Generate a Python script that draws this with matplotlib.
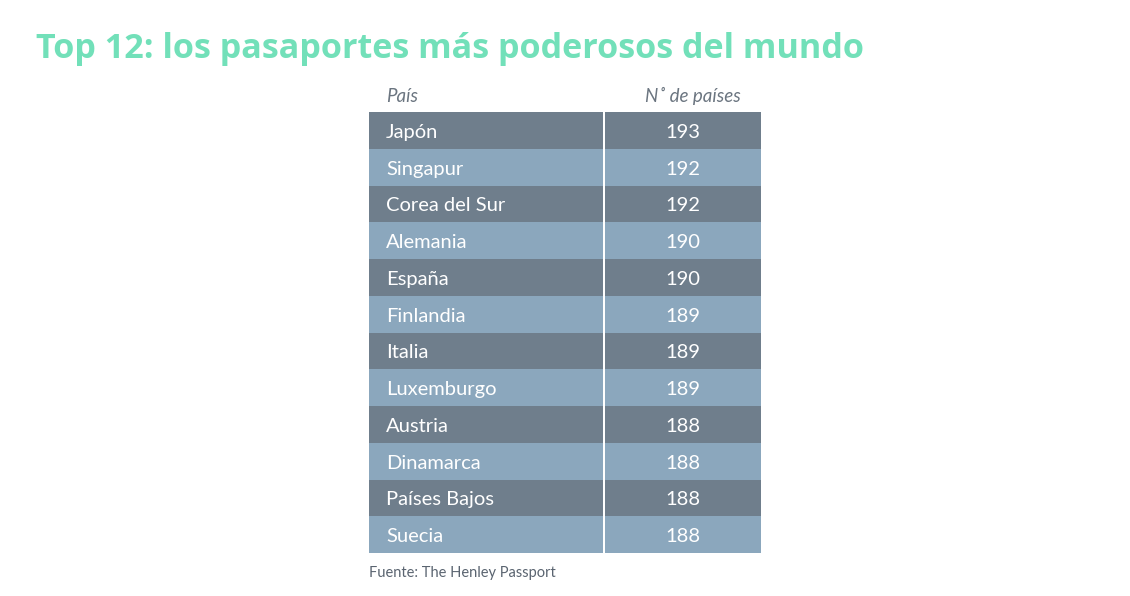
import matplotlib
matplotlib.use("Agg")
import matplotlib.pyplot as plt
from matplotlib.patches import Rectangle

paises = ["Japón", "Singapur", "Corea del Sur", "Alemania", "España", "Finlandia",
          "Italia", "Luxemburgo", "Austria", "Dinamarca", "Países Bajos", "Suecia"]
destinos = [193, 192, 192, 190, 190, 189, 189, 189, 188, 188, 188, 188]

dark = "#6f7e8c"
light = "#8ba7bd"
font = "Lato"

fig = plt.figure(figsize=(11.3, 5.96), dpi=100)
ax = fig.add_axes([0, 0, 1, 1])
ax.set_xlim(0, 1130)
ax.set_ylim(596, 0)
ax.axis("off")

# title
ax.text(36, 49, "Top 12: los pasaportes más poderosos del mundo", fontsize=24.6,
        fontweight="bold", color="#72e0b9", fontfamily="Open Sans", va="center")

# headers
ax.text(386, 96, "País", fontsize=13.5, style="italic", color="#6b7580",
        fontfamily=font, va="center")
ax.text(741, 96, "N˚ de países", fontsize=13.5, style="italic", color="#6b7580",
        fontfamily=font, va="center", ha="right")

top, h = 112, 441 / len(paises)
x0, xs, x1 = 369, 603, 761
for i, (p, v) in enumerate(zip(paises, destinos)):
    y = top + i * h
    c = dark if i % 2 == 0 else light
    ax.add_patch(Rectangle((x0, y), xs - x0, h, color=c, lw=0))
    ax.add_patch(Rectangle((xs + 2, y), x1 - xs - 2, h, color=c, lw=0))
    ax.text(386, y + h / 2 + 2, p, fontsize=14.5, color="white", fontfamily=font,
            va="center")
    ax.text(683, y + h / 2 + 2, str(v), fontsize=14.5, color="white", fontfamily=font,
            va="center", ha="center")

ax.text(369, 573, "Fuente: The Henley Passport", fontsize=10.5, color="#5a6470",
        fontfamily=font, va="center")

fig.savefig("out.png", dpi=100, facecolor="white")
